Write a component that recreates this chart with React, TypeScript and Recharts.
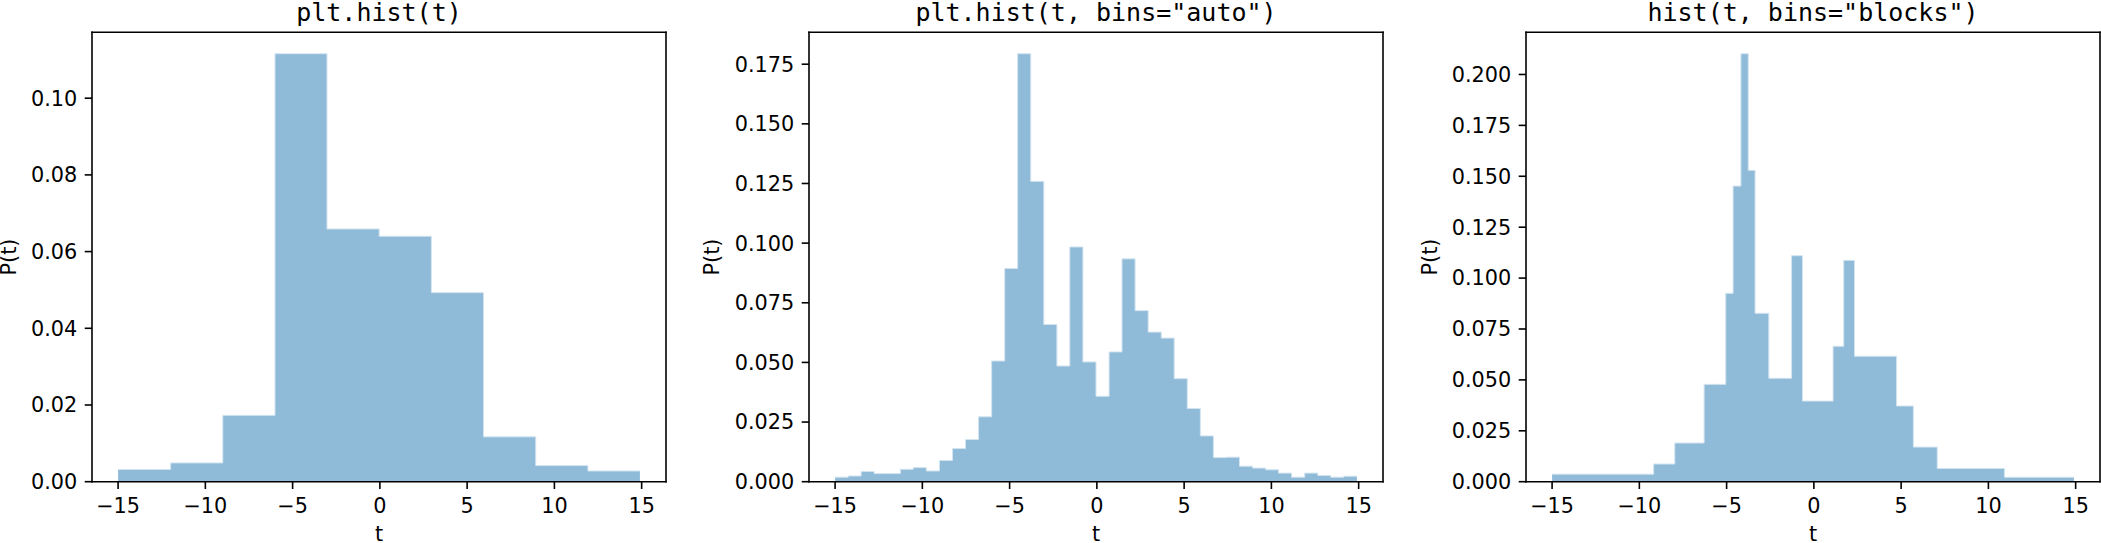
import { AreaChart, Area, XAxis, YAxis, ReferenceLine } from "recharts";

// bin edges and densities
const edgesDefault = [-15, -11.99, -9.0, -6.01, -3.03, -0.04, 2.95, 5.94, 8.93, 11.92, 14.9];
const densDefault = [0.0032, 0.0049, 0.0173, 0.1116, 0.0659, 0.064, 0.0493, 0.0117, 0.0042, 0.0028];

const edgesAuto = [
  -15, -14.25, -13.51, -12.76, -12.01, -11.26, -10.52, -9.77, -9.02, -8.27, -7.53, -6.78, -6.03, -5.28,
  -4.54, -3.79, -3.04, -2.29, -1.55, -0.8, -0.05, 0.7, 1.44, 2.19, 2.94, 3.69, 4.43, 5.18, 5.93, 6.68,
  7.42, 8.17, 8.92, 9.67, 10.41, 11.16, 11.91, 12.66, 13.4, 14.15, 14.9,
];
const densAuto = [
  0.0019, 0.0024, 0.0043, 0.0034, 0.0034, 0.0052, 0.0059, 0.0045, 0.0089, 0.0139, 0.0177, 0.0272, 0.0506,
  0.0894, 0.1794, 0.1259, 0.0659, 0.0485, 0.0984, 0.0502, 0.0358, 0.0544, 0.0934, 0.0717, 0.0627, 0.0602,
  0.0432, 0.0307, 0.0192, 0.0101, 0.0103, 0.0065, 0.0057, 0.005, 0.0036, 0.0019, 0.0036, 0.0026, 0.0019,
  0.0023,
];

const edgesBlocks = [
  -15, -9.18, -7.97, -6.29, -5.05, -4.63, -4.18, -3.76, -3.37, -2.58, -1.28, -0.65, 1.1, 1.71, 2.33, 4.74,
  5.7, 7.07, 10.92, 14.9,
];
const densBlocks = [
  0.0037, 0.0087, 0.019, 0.0478, 0.0925, 0.1452, 0.2102, 0.1529, 0.0827, 0.0508, 0.111, 0.0396, 0.0665,
  0.1087, 0.0616, 0.0372, 0.017, 0.0065, 0.0022,
];

const xTicks = [-15, -10, -5, 0, 5, 10, 15];
const yTicksDefault = [0, 0.02, 0.04, 0.06, 0.08, 0.1];
const yTicksAuto = [0, 0.025, 0.05, 0.075, 0.1, 0.125, 0.15, 0.175];
const yTicksBlocks = [0, 0.025, 0.05, 0.075, 0.1, 0.125, 0.15, 0.175, 0.2];

const FONT = "DejaVu Sans";
const MONO = "DejaVu Sans Mono";
const FILL = "#8fbbd9";
const AXIS_W = 140; // room left of the plot for ticks + y label
const PLOT_W = 574;
const PLOT_TOP = 32.3;
const PLOT_BOTTOM = 481.7;
const H = 543;
const X_DOMAIN = [-16.495, 16.395];

const fmtX = (v: number) => (v < 0 ? "\u2212" + Math.abs(v) : String(v));

function HistPanel({
  title,
  edges,
  dens,
  yTicks,
  digits,
  left,
  ylabelOffset,
}: {
  title: string;
  edges: number[];
  dens: number[];
  yTicks: number[];
  digits: number;
  left: number;
  ylabelOffset: number;
}) {
  const data = edges.map((e, i) => ({ x: e, y: dens[Math.min(i, dens.length - 1)] }));
  const yMax = Math.max(...dens) * 1.05;
  const cx = AXIS_W + PLOT_W / 2;
  const axisStyle = { stroke: "#000", strokeWidth: 1.6, strokeLinecap: "square" as const };
  const tickStyle = { fill: "#000", fontSize: 20.8, fontFamily: FONT };

  return (
    <div style={{ position: "absolute", left: left - AXIS_W, top: 0 }}>
      <AreaChart
        width={AXIS_W + PLOT_W + 10}
        height={H}
        data={data}
        margin={{ top: PLOT_TOP, right: 10, bottom: 0, left: 0 }}
      >
        <Area
          type="stepAfter"
          dataKey="y"
          fill={FILL}
          fillOpacity={1}
          stroke="#d3e4f0"
          strokeWidth={1}
          dot={false}
          activeDot={false}
          isAnimationActive={false}
        />
        {/* top and right spines */}
        <ReferenceLine y={yMax} stroke="#000" strokeWidth={1.6} strokeLinecap="square" />
        <ReferenceLine x={X_DOMAIN[1]} stroke="#000" strokeWidth={1.6} strokeLinecap="square" />
        <XAxis
          dataKey="x"
          type="number"
          domain={X_DOMAIN}
          ticks={xTicks}
          tickFormatter={fmtX}
          height={H - PLOT_BOTTOM}
          tickSize={7.3}
          tickMargin={9.5}
          tick={tickStyle}
          axisLine={axisStyle}
          tickLine={{ stroke: "#000", strokeWidth: 1.6 }}
          label={{
            value: "t",
            content: () => (
              <text x={cx} y={540.5} textAnchor="middle" fontFamily={FONT} fontSize={20.8} fill="#000">
                t
              </text>
            ),
          }}
        />
        <YAxis
          type="number"
          domain={[0, yMax]}
          ticks={yTicks}
          tickFormatter={(v: number) => v.toFixed(digits)}
          width={AXIS_W}
          tickSize={7.3}
          tickMargin={7.4}
          tick={tickStyle}
          axisLine={axisStyle}
          tickLine={{ stroke: "#000", strokeWidth: 1.6 }}
          label={{
            value: "P(t)",
            content: () => {
              const lx = AXIS_W - ylabelOffset;
              const ly = (PLOT_TOP + PLOT_BOTTOM) / 2;
              return (
                <g>
                  <text
                    x={lx}
                    y={ly}
                    transform={`rotate(-90 ${lx} ${ly})`}
                    textAnchor="middle"
                    fontFamily={FONT}
                    fontSize={20.8}
                    fill="#000"
                  >
                    P(t)
                  </text>
                  <text x={cx} y={20.6} textAnchor="middle" fontFamily={MONO} fontSize={25} fill="#000">
                    {title}
                  </text>
                </g>
              );
            },
          }}
        />
      </AreaChart>
    </div>
  );
}

export default function App() {
  return (
    <div style={{ position: "relative", width: 2101, height: 543, overflow: "hidden", background: "#fff" }}>
      <style>{"body{margin:0;overflow:hidden}"}</style>
      <HistPanel
        title="plt.hist(t)"
        edges={edgesDefault}
        dens={densDefault}
        yTicks={yTicksDefault}
        digits={2}
        left={91.5}
        ylabelOffset={76.3}
      />
      <HistPanel
        title={'plt.hist(t, bins="auto")'}
        edges={edgesAuto}
        dens={densAuto}
        yTicks={yTicksAuto}
        digits={3}
        left={808.9}
        ylabelOffset={90.2}
      />
      <HistPanel
        title={'hist(t, bins="blocks")'}
        edges={edgesBlocks}
        dens={densBlocks}
        yTicks={yTicksBlocks}
        digits={3}
        left={1526}
        ylabelOffset={89.4}
      />
    </div>
  );
}
